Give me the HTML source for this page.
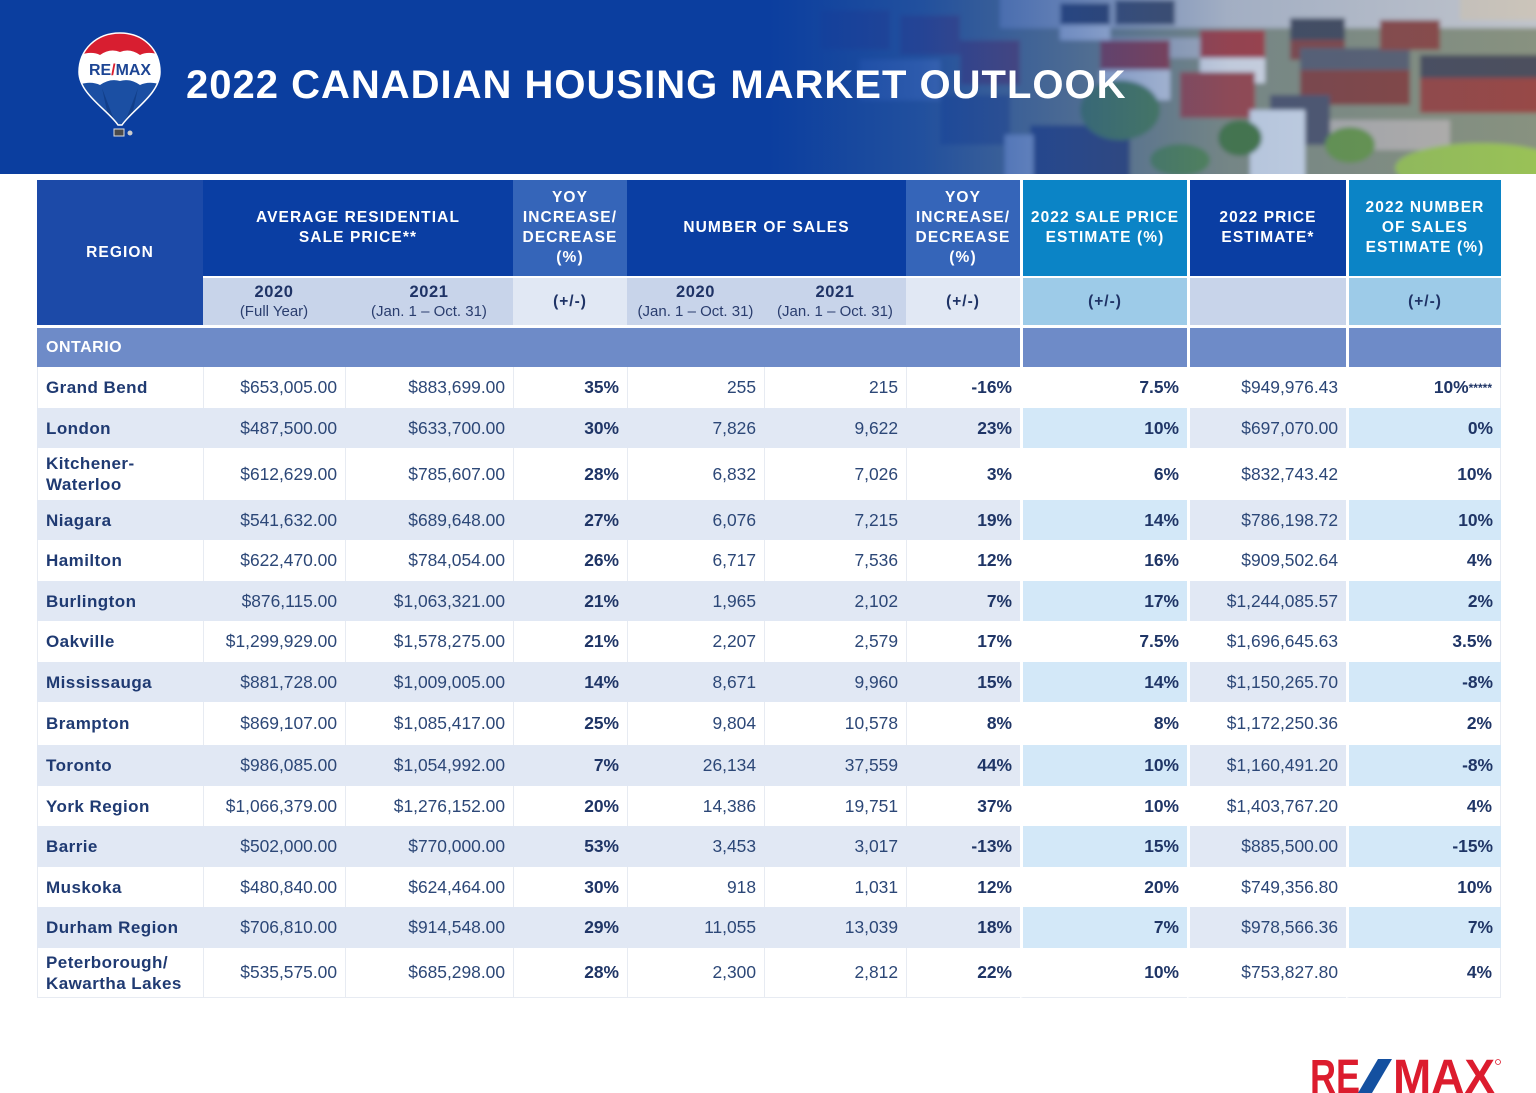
<!DOCTYPE html>
<html><head><meta charset="utf-8">
<style>
body{margin:0;width:1536px;height:1093px;overflow:hidden;background:#fff;position:relative;font-family:"Liberation Sans",Arial,sans-serif;}
.top{position:absolute;left:0;top:0;}
.title{position:absolute;left:186px;top:60px;font-size:40px;font-weight:bold;color:#fff;letter-spacing:1px;line-height:50px;white-space:nowrap;}
.g{position:absolute;left:37px;top:180px;width:1464px;display:grid;grid-template-columns:166px 142px 168px 114px 137px 142px 114px 167px 159px 155px;grid-template-rows:96px 52px 39px 41px 40px 52px 40px 41px 40px 41px 40px 43px 41px 40px 41px 40px 41px 50px;}
.g div{box-sizing:border-box;}
.g>div{display:flex;align-items:center;}
.g>div.row{display:contents;}
.g>div.row>div{display:flex;align-items:center;white-space:nowrap;overflow:hidden;}
.h{color:#fff;font-weight:bold;font-size:15.5px;letter-spacing:1.1px;line-height:20px;justify-content:center;text-align:center;}
.g>div.sub{flex-direction:column;justify-content:center;align-items:center;text-align:center;border-top:2px solid #fff;border-bottom:3px solid #fff;color:#2a3d6e;font-size:15px;line-height:20px;white-space:nowrap;}
.sub b{font-size:16.5px;letter-spacing:.6px;color:#1f3366;}
.pm{font-weight:bold;color:#1f3366;font-size:15.5px;letter-spacing:1px;}
.gp{border-left:3px solid #fff;}
.ont{background:#6e8bc8;}
.g>div.row>div{justify-content:flex-end;padding-right:8px;font-size:17.4px;color:#2c4777;}
.g>div.row>div:nth-child(1){justify-content:flex-start;padding-left:9px;padding-right:0;font-weight:bold;color:#1f3a72;font-size:17px;letter-spacing:.45px;line-height:21px;white-space:normal;}
.g>div.w>div:nth-child(1){padding-left:8px;}
.g>div.row>div:nth-child(4),.g>div.row>div:nth-child(7),.g>div.row>div:nth-child(8),.g>div.row>div:nth-child(10){font-weight:bold;color:#1f3566;}
.g>div.w>div{border-left:1px solid #e7ebf2;}
.g>div.w>div:nth-child(10){border-right:1px solid #e7ebf2;}
.g>div.s>div{background:#e1e8f4;}
.g>div.s>div:nth-child(8),.g>div.s>div:nth-child(10){background:#d3e8f8;}
.g>div.row>div:nth-child(n+8){border-left:3px solid #fff;}
.g>div.last>div{border-bottom:1px solid #e7ebf2;}
sup{font-size:12px;vertical-align:top;line-height:12px;}
</style></head><body>

<svg class="top" width="1536" height="174" viewBox="0 0 1536 174" xmlns="http://www.w3.org/2000/svg">
<defs>
<linearGradient id="ov" x1="0" y1="0" x2="1536" y2="0" gradientUnits="userSpaceOnUse">
<stop offset="0" stop-color="#0b3e9f" stop-opacity="1"/>
<stop offset="0.5" stop-color="#0b3e9f" stop-opacity="1"/>
<stop offset="0.6" stop-color="#0f44a3" stop-opacity="0.85"/>
<stop offset="0.7" stop-color="#1a4aa3" stop-opacity="0.55"/>
<stop offset="0.8" stop-color="#2050a0" stop-opacity="0.2"/>
<stop offset="1" stop-color="#2050a0" stop-opacity="0.02"/>
</linearGradient>
<filter id="bl" x="0" y="0" width="100%" height="100%"><feGaussianBlur stdDeviation="2.5"/></filter>
<clipPath id="bal"><path d="M120,33 C96,33 79,50 79,72 C79,94 108,110 118,125 L122,125 C132,110 160,94 160,72 C160,50 144,33 120,33 Z"/></clipPath>
</defs>
<g filter="url(#bl)">
<rect x="-10" y="-10" width="1556" height="194" fill="#8a937f"/>
<rect x="1000" y="-10" width="546" height="38" fill="#c3c6cc"/>
<rect x="1110" y="38" width="90" height="20" fill="#b9bcc0"/>
<rect x="820" y="10" width="70" height="40" fill="#9a4a4a"/>
<rect x="900" y="15" width="60" height="40" fill="#a04545"/>
<rect x="960" y="40" width="60" height="45" fill="#9c4040"/>
<rect x="860" y="60" width="80" height="40" fill="#d8dbe0"/>
<rect x="940" y="95" width="70" height="50" fill="#5a6070"/>
<rect x="1060" y="3" width="50" height="22" fill="#3b3f55"/>
<rect x="1060" y="25" width="50" height="15" fill="#e6e7ea"/>
<rect x="1115" y="0" width="60" height="25" fill="#4a4e5c"/>
<rect x="1100" y="40" width="70" height="40" fill="#a33a3a"/>
<rect x="1100" y="70" width="70" height="30" fill="#e2e3e6"/>
<rect x="1200" y="30" width="65" height="30" fill="#b0403e"/>
<rect x="1200" y="58" width="65" height="25" fill="#e8e8ea"/>
<rect x="1180" y="72" width="75" height="46" fill="#a84a44"/>
<rect x="1290" y="18" width="55" height="25" fill="#4a4e5a"/>
<rect x="1290" y="40" width="55" height="20" fill="#8b4a43"/>
<rect x="1300" y="48" width="110" height="25" fill="#5f6370"/>
<rect x="1300" y="70" width="110" height="35" fill="#8a463f"/>
<rect x="1380" y="20" width="60" height="30" fill="#8f4c45"/>
<rect x="1420" y="55" width="126" height="25" fill="#4d4f5c"/>
<rect x="1420" y="78" width="126" height="35" fill="#9a4a44"/>
<rect x="1460" y="-10" width="86" height="30" fill="#cfc7bb"/>
<rect x="1270" y="95" width="60" height="50" fill="#55596a"/>
<rect x="1250" y="110" width="55" height="70" fill="#d8e0ea"/>
<rect x="1330" y="120" width="120" height="30" fill="#b7b2ab"/>
<rect x="1030" y="125" width="100" height="59" fill="#3c4468"/>
<rect x="1005" y="135" width="28" height="49" fill="#dcdfe6"/>
<ellipse cx="1120" cy="110" rx="40" ry="30" fill="#5a8a45"/>
<ellipse cx="1240" cy="138" rx="22" ry="18" fill="#4e7d3c"/>
<ellipse cx="1350" cy="145" rx="25" ry="18" fill="#6d9a4a"/>
<ellipse cx="1480" cy="168" rx="85" ry="25" fill="#9cc455"/>
<ellipse cx="1180" cy="160" rx="30" ry="16" fill="#5f8f48"/>
</g>
<rect width="1536" height="174" fill="url(#ov)"/>
<g clip-path="url(#bal)">
<rect x="75" y="30" width="90" height="100" fill="#ffffff"/>
<path d="M75,86 Q90,80 100,85 Q110,78 120,81 Q130,78 140,85 Q150,80 165,86 L165,130 L75,130 Z" fill="#1b4fa3"/>
<path d="M102,88 L116,125 L110,125 Z M138,88 L124,125 L130,125 Z" fill="#123f8a"/>
<path d="M75,57 Q90,50 100,55 Q110,48 120,52 Q130,48 140,55 Q150,50 165,57 L165,30 L75,30 Z" fill="#d81e30"/>
</g>
<path d="M120,33 C96,33 79,50 79,72 C79,94 108,110 118,125 L122,125 C132,110 160,94 160,72 C160,50 144,33 120,33 Z" fill="none" stroke="#fff" stroke-width="1.5"/>
<text x="120" y="75" text-anchor="middle" font-family="Liberation Sans, Arial, sans-serif" font-weight="bold" font-size="16" fill="#1d4594" textLength="62" lengthAdjust="spacingAndGlyphs">RE<tspan fill="#d81e30">/</tspan>MAX</text>
<rect x="114" y="129" width="10" height="7" fill="#4a4a4a" stroke="#ddd" stroke-width="1"/>
<circle cx="130" cy="133" r="2.5" fill="#ccc"/>
</svg>

<div class="title">2022 CANADIAN HOUSING MARKET OUTLOOK</div>

<div class="g">
  <div class="h" style="grid-row:1 / span 2;background:#1c4aa8;border-bottom:3px solid #fff;">REGION</div>
  <div class="h" style="grid-column:span 2;background:#0a3ea3;">AVERAGE RESIDENTIAL<br>SALE PRICE**</div>
  <div class="h" style="background:#3565b9;">YOY<br>INCREASE/<br>DECREASE<br>(%)</div>
  <div class="h" style="grid-column:span 2;background:#0a3ea3;">NUMBER OF SALES</div>
  <div class="h" style="background:#3565b9;">YOY<br>INCREASE/<br>DECREASE<br>(%)</div>
  <div class="h gp" style="background:#0b84c6;">2022 SALE PRICE<br>ESTIMATE (%)</div>
  <div class="h gp" style="background:#0a3ea3;">2022 PRICE<br>ESTIMATE*</div>
  <div class="h gp" style="background:#0b84c6;">2022 NUMBER<br>OF SALES<br>ESTIMATE (%)</div>

  <div class="sub" style="background:#c8d4ea;"><b>2020</b><span>(Full Year)</span></div>
  <div class="sub" style="background:#c8d4ea;"><b>2021</b><span>(Jan. 1 – Oct. 31)</span></div>
  <div class="sub" style="background:#e1e8f4;"><span class="pm">(+/-)</span></div>
  <div class="sub" style="background:#c8d4ea;"><b>2020</b><span>(Jan. 1 – Oct. 31)</span></div>
  <div class="sub" style="background:#c8d4ea;"><b>2021</b><span>(Jan. 1 – Oct. 31)</span></div>
  <div class="sub" style="background:#e1e8f4;"><span class="pm">(+/-)</span></div>
  <div class="sub gp" style="background:#9dcbe8;"><span class="pm">(+/-)</span></div>
  <div class="sub gp" style="background:#c8d4ea;"></div>
  <div class="sub gp" style="background:#9dcbe8;"><span class="pm">(+/-)</span></div>

  <div class="ont" style="grid-column:span 7;padding-left:9px;color:#fff;font-weight:bold;font-size:16px;letter-spacing:.5px;">ONTARIO</div>
  <div class="ont gp"></div>
  <div class="ont gp"></div>
  <div class="ont gp"></div>

  <div class="row w"><div>Grand Bend</div><div>$653,005.00</div><div>$883,699.00</div><div>35%</div><div>255</div><div>215</div><div>-16%</div><div>7.5%</div><div>$949,976.43</div><div>10%<sup>*****</sup></div></div>
  <div class="row s"><div>London</div><div>$487,500.00</div><div>$633,700.00</div><div>30%</div><div>7,826</div><div>9,622</div><div>23%</div><div>10%</div><div>$697,070.00</div><div>0%</div></div>
  <div class="row w"><div>Kitchener-<br>Waterloo</div><div>$612,629.00</div><div>$785,607.00</div><div>28%</div><div>6,832</div><div>7,026</div><div>3%</div><div>6%</div><div>$832,743.42</div><div>10%</div></div>
  <div class="row s"><div>Niagara</div><div>$541,632.00</div><div>$689,648.00</div><div>27%</div><div>6,076</div><div>7,215</div><div>19%</div><div>14%</div><div>$786,198.72</div><div>10%</div></div>
  <div class="row w"><div>Hamilton</div><div>$622,470.00</div><div>$784,054.00</div><div>26%</div><div>6,717</div><div>7,536</div><div>12%</div><div>16%</div><div>$909,502.64</div><div>4%</div></div>
  <div class="row s"><div>Burlington</div><div>$876,115.00</div><div>$1,063,321.00</div><div>21%</div><div>1,965</div><div>2,102</div><div>7%</div><div>17%</div><div>$1,244,085.57</div><div>2%</div></div>
  <div class="row w"><div>Oakville</div><div>$1,299,929.00</div><div>$1,578,275.00</div><div>21%</div><div>2,207</div><div>2,579</div><div>17%</div><div>7.5%</div><div>$1,696,645.63</div><div>3.5%</div></div>
  <div class="row s"><div>Mississauga</div><div>$881,728.00</div><div>$1,009,005.00</div><div>14%</div><div>8,671</div><div>9,960</div><div>15%</div><div>14%</div><div>$1,150,265.70</div><div>-8%</div></div>
  <div class="row w"><div>Brampton</div><div>$869,107.00</div><div>$1,085,417.00</div><div>25%</div><div>9,804</div><div>10,578</div><div>8%</div><div>8%</div><div>$1,172,250.36</div><div>2%</div></div>
  <div class="row s"><div>Toronto</div><div>$986,085.00</div><div>$1,054,992.00</div><div>7%</div><div>26,134</div><div>37,559</div><div>44%</div><div>10%</div><div>$1,160,491.20</div><div>-8%</div></div>
  <div class="row w"><div>York Region</div><div>$1,066,379.00</div><div>$1,276,152.00</div><div>20%</div><div>14,386</div><div>19,751</div><div>37%</div><div>10%</div><div>$1,403,767.20</div><div>4%</div></div>
  <div class="row s"><div>Barrie</div><div>$502,000.00</div><div>$770,000.00</div><div>53%</div><div>3,453</div><div>3,017</div><div>-13%</div><div>15%</div><div>$885,500.00</div><div>-15%</div></div>
  <div class="row w"><div>Muskoka</div><div>$480,840.00</div><div>$624,464.00</div><div>30%</div><div>918</div><div>1,031</div><div>12%</div><div>20%</div><div>$749,356.80</div><div>10%</div></div>
  <div class="row s"><div>Durham Region</div><div>$706,810.00</div><div>$914,548.00</div><div>29%</div><div>11,055</div><div>13,039</div><div>18%</div><div>7%</div><div>$978,566.36</div><div>7%</div></div>
  <div class="row w last"><div>Peterborough/<br>Kawartha Lakes</div><div>$535,575.00</div><div>$685,298.00</div><div>28%</div><div>2,300</div><div>2,812</div><div>22%</div><div>10%</div><div>$753,827.80</div><div>4%</div></div>
</div>

<svg style="position:absolute;left:0;top:1040px" width="1536" height="53" viewBox="0 1040 1536 53" xmlns="http://www.w3.org/2000/svg">
<text x="1310" y="1093" font-family="Liberation Sans, Arial, sans-serif" font-weight="bold" font-size="48" fill="#dc1c2e" textLength="50" lengthAdjust="spacingAndGlyphs">RE</text>
<polygon points="1378,1059 1392,1059 1372,1093 1358,1093" fill="#1450a0"/>
<text x="1393" y="1093" font-family="Liberation Sans, Arial, sans-serif" font-weight="bold" font-size="48" fill="#dc1c2e" textLength="102" lengthAdjust="spacingAndGlyphs">MAX</text>
<circle cx="1498" cy="1062" r="2.5" fill="none" stroke="#dc1c2e" stroke-width="0.8"/>
</svg>
</body></html>
